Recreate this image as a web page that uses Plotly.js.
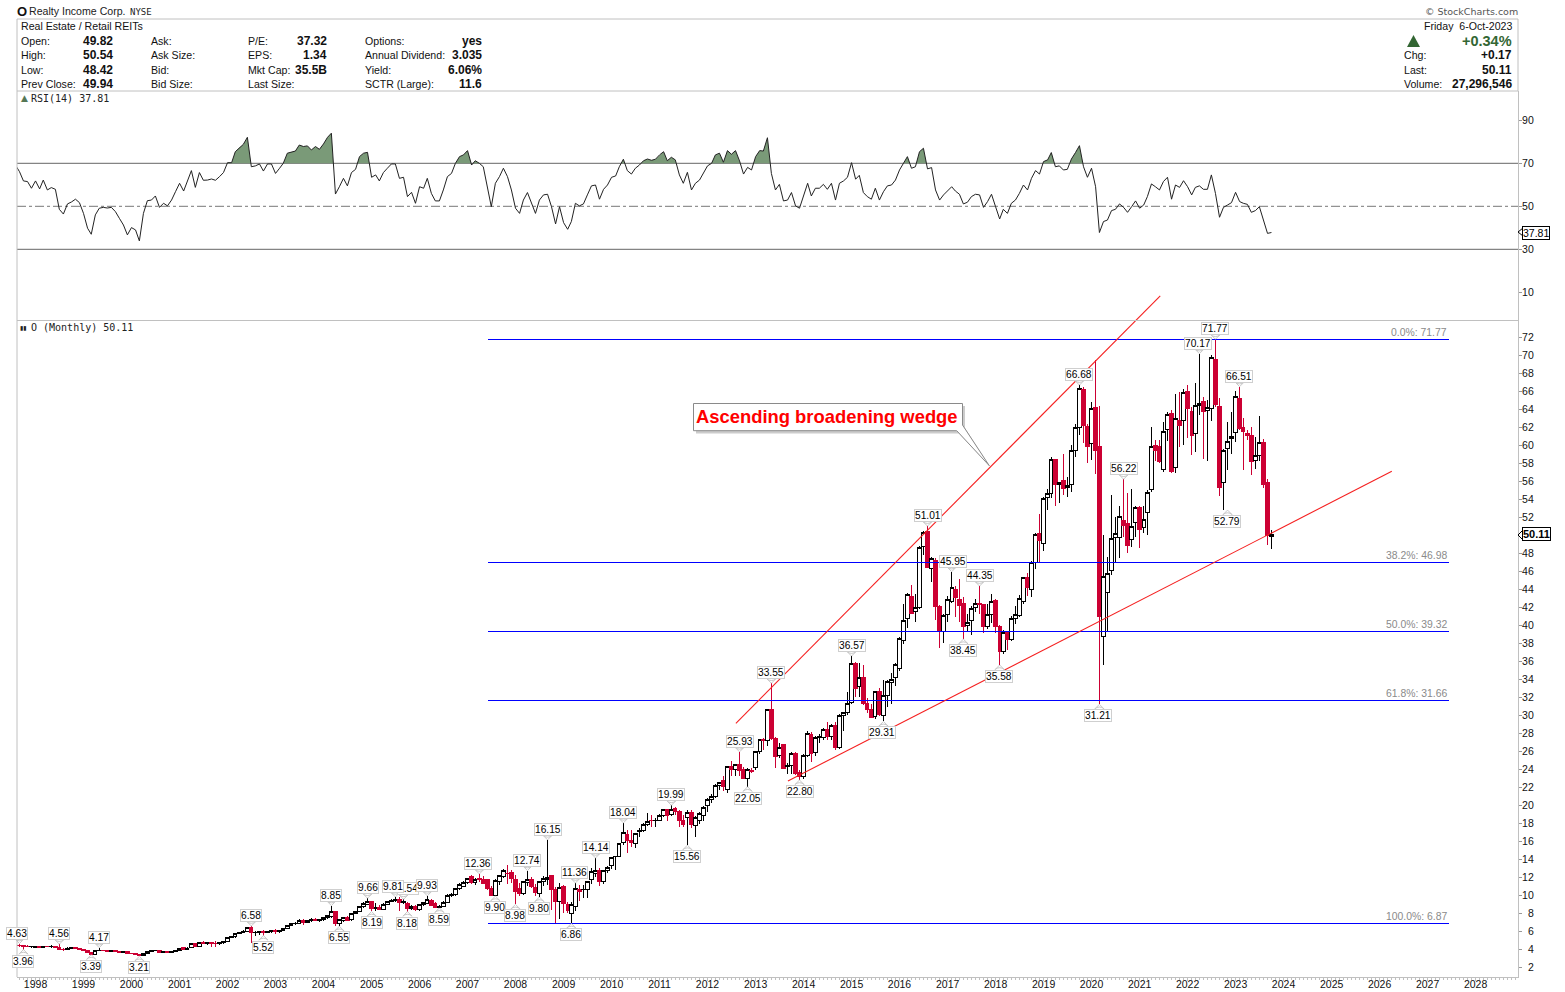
<!DOCTYPE html>
<html><head><meta charset="utf-8">
<script src="https://cdn.plot.ly/plotly-3.0.1.min.js"></script>
<style>html,body{margin:0;padding:0;background:#fff}#c{width:1565px;height:992px}
.boxlayer path{shape-rendering:crispEdges}</style>
</head><body><div id="c"></div>
<script>
const firstYear = 1997, firstMonth = 9;
const opens = [
4.42,4.36,4.30,4.26,
4.20,4.30,4.20,4.30,4.26,4.30,4.24,3.98,3.92,4.12,4.16,4.12,
4.00,3.90,3.66,3.46,3.84,3.88,3.86,3.80,3.84,3.74,3.66,3.70,
3.54,3.50,3.38,3.26,3.48,3.74,3.84,3.86,3.66,3.72,3.64,3.76,
3.90,4.20,3.98,4.20,4.66,4.32,4.74,4.68,4.72,4.68,4.62,4.72,
4.86,5.30,5.42,5.80,5.88,6.00,6.46,5.85,5.88,5.92,5.90,6.00,
6.08,5.95,6.10,6.30,6.62,6.85,6.90,7.20,7.00,7.15,7.35,7.15,
7.25,7.50,7.60,8.17,6.87,7.17,7.50,7.25,8.00,8.17,8.70,9.00,
9.28,8.54,8.65,8.43,9.00,9.30,9.42,9.54,9.17,9.09,8.54,8.80,
8.40,8.93,9.10,9.46,9.10,8.65,8.75,9.20,10.00,10.05,10.76,11.00,
11.40,12.05,11.40,11.85,11.80,11.76,10.76,9.95,11.50,12.13,12.45,12.50,
11.70,10.75,10.20,11.40,11.80,10.85,10.20,11.50,11.75,12.24,10.65,9.28,
10.95,9.00,7.98,8.73,10.65,10.62,10.58,11.70,12.40,12.80,11.50,12.72,
13.25,14.30,14.35,15.87,16.76,16.13,15.76,17.10,17.24,17.87,18.30,18.30,
18.35,18.84,19.47,19.00,19.58,19.28,18.35,18.60,19.24,17.70,18.35,18.90,
20.00,20.65,20.95,22.17,22.72,21.70,24.28,24.00,24.57,24.00,23.00,23.90,
24.17,25.95,27.30,27.24,30.65,27.43,25.47,26.70,24.35,24.40,25.76,23.60,
23.17,25.57,27.87,25.83,27.55,27.54,28.43,27.60,28.84,26.43,30.00,30.30,
31.43,35.76,33.17,34.20,31.30,30.60,29.84,32.60,30.00,32.24,33.60,34.20,
35.20,38.35,40.76,43.24,41.50,42.00,48.70,50.40,46.30,47.24,42.05,39.30,
41.24,42.60,44.00,42.90,42.43,39.95,40.50,41.95,42.40,42.35,39.84,41.24,
42.70,39.90,37.06,39.17,38.43,40.76,41.13,42.60,45.30,44.00,46.95,50.20,
49.10,54.20,54.65,58.36,55.60,56.10,55.30,55.58,59.46,62.00,66.24,62.13,
60.20,64.20,59.84,38.80,43.60,46.10,49.76,49.76,51.60,51.30,49.47,51.43,
53.06,50.87,52.50,55.13,60.00,59.84,57.30,61.76,63.54,57.54,62.80,62.80,
66.00,63.70,61.30,64.40,64.90,63.84,64.10,69.47,64.35,55.84,59.65,60.70,
61.40,65.24,61.95,61.30,61.13,58.28,58.90,60.30,55.87,49.82];
const highs = [
4.63,4.45,4.42,4.34,
4.32,4.34,4.34,4.36,4.42,4.38,4.56,4.10,4.20,4.22,4.24,4.14,
4.04,3.94,3.72,3.88,4.17,3.96,3.92,3.90,3.88,3.80,3.74,3.72,
3.60,3.56,3.44,3.50,3.76,3.90,3.92,3.90,3.80,3.78,3.80,3.95,
4.14,4.26,4.20,4.72,4.74,4.78,4.95,4.82,4.80,4.92,4.85,4.88,
5.40,5.50,5.85,5.95,6.10,6.50,6.58,6.00,6.05,6.08,6.05,6.15,
6.25,6.15,6.35,6.70,6.95,7.00,7.35,7.35,7.25,7.45,7.45,7.35,
7.55,7.85,8.85,8.25,7.30,7.60,7.70,8.05,8.25,8.85,9.20,9.66,
9.40,9.10,8.95,9.10,9.40,9.60,9.81,9.75,9.54,9.25,8.90,8.95,
9.00,9.30,9.93,9.60,9.20,8.90,9.35,10.10,10.30,10.85,11.35,11.55,
11.90,12.30,11.95,12.36,12.10,11.80,11.00,11.80,12.30,12.90,13.35,12.85,
12.30,11.40,11.60,12.74,12.00,11.30,11.50,12.10,16.15,12.30,10.90,11.40,
11.10,9.20,9.30,11.36,11.10,11.10,11.60,13.00,14.14,13.00,12.85,13.30,
14.30,14.40,15.85,18.04,17.25,17.25,16.95,17.50,18.00,19.17,18.90,18.60,
19.00,19.60,19.55,19.99,19.80,19.50,18.90,19.50,19.50,18.80,19.20,19.90,
20.80,21.20,22.40,22.60,23.20,24.40,24.90,24.54,25.93,24.20,24.10,24.10,
26.00,27.40,27.50,30.70,33.55,27.60,26.90,26.85,24.70,25.90,25.90,23.90,
25.70,28.30,28.10,27.70,27.90,28.60,29.30,29.00,29.30,30.10,30.40,32.60,
36.57,35.90,35.80,35.60,31.90,31.20,32.70,33.00,33.90,33.90,34.70,35.80,
38.70,42.40,43.60,44.50,43.50,48.80,50.50,51.01,47.60,47.50,42.20,41.20,
43.30,45.95,44.40,45.10,43.10,41.30,42.10,42.90,44.35,42.40,42.40,43.50,
42.90,40.00,39.50,39.40,41.00,42.10,43.40,45.40,45.80,47.10,50.20,52.35,
54.20,55.10,58.70,58.50,55.95,59.00,56.50,60.00,62.40,66.68,66.50,62.40,
64.80,69.50,64.35,50.00,47.60,54.47,52.00,53.20,56.22,54.65,55.10,53.20,
53.20,53.20,55.00,62.00,60.60,60.60,62.60,63.70,63.90,65.70,65.90,66.20,
66.70,64.30,66.90,70.17,65.40,65.00,70.00,71.77,65.20,59.60,62.60,63.70,
66.00,66.51,63.00,61.70,62.00,60.90,63.30,60.70,56.20,50.54];
const lows = [
4.30,3.96,4.20,4.10,
4.12,4.16,4.16,4.22,4.18,4.20,4.08,3.85,3.88,4.05,4.08,3.96,
3.86,3.62,3.39,3.42,3.78,3.78,3.74,3.72,3.70,3.62,3.58,3.50,
3.44,3.34,3.21,3.22,3.44,3.70,3.78,3.62,3.60,3.60,3.60,3.72,
3.86,3.95,3.90,4.15,4.30,4.28,4.60,4.50,4.20,4.30,4.50,4.60,
4.82,5.20,5.30,5.70,5.76,5.90,4.70,5.50,5.60,5.52,5.80,5.85,
5.70,5.85,6.00,6.25,6.55,6.70,6.80,6.70,6.90,7.05,7.10,7.05,
7.15,7.40,7.50,6.60,6.55,7.05,7.10,7.15,7.90,8.10,8.60,8.90,
8.19,8.30,8.35,8.35,8.90,9.20,9.30,8.28,9.00,8.18,8.40,8.30,
8.30,8.80,9.05,8.85,8.60,8.59,8.70,9.10,9.85,9.95,10.60,10.90,
11.30,11.20,11.10,11.50,11.30,10.60,9.90,9.90,11.10,11.90,11.30,11.40,
8.98,9.90,10.00,11.00,10.80,9.90,9.80,11.00,11.10,8.40,6.87,7.40,
8.00,8.00,6.86,8.30,9.40,9.65,9.65,11.20,12.00,11.00,11.30,12.50,
12.90,12.80,14.20,15.60,14.65,15.40,15.20,16.50,17.00,17.70,17.55,17.60,
18.20,18.70,18.30,18.80,18.90,17.55,17.55,15.56,17.50,16.50,17.90,18.30,
19.20,20.30,20.80,21.70,21.60,21.40,23.30,23.30,23.20,22.90,22.05,23.60,
23.90,25.70,26.10,26.60,27.30,24.10,25.30,24.00,23.50,23.50,23.40,22.80,
22.90,25.40,24.85,25.50,26.90,27.20,27.20,27.20,26.10,26.30,28.30,30.00,
31.20,32.00,32.00,31.10,30.30,29.70,29.60,29.90,29.31,30.90,31.30,33.20,
34.90,37.90,39.70,41.20,40.40,41.80,47.80,46.40,44.80,40.60,37.43,38.00,
40.40,42.50,40.90,40.40,38.45,39.30,38.90,41.50,41.30,39.10,39.60,40.20,
39.10,35.58,36.80,37.20,38.20,40.10,40.90,42.40,43.20,43.10,46.20,46.90,
48.30,52.80,54.10,53.20,53.60,54.50,54.20,54.80,58.70,61.10,60.30,58.00,
58.40,56.80,31.21,35.60,39.30,45.60,47.00,47.50,49.80,48.00,48.70,49.80,
48.60,50.20,50.00,54.80,58.30,58.00,57.00,60.50,56.90,56.90,59.80,60.00,
60.80,58.90,59.30,63.40,58.50,58.30,62.70,64.20,54.40,52.79,57.20,59.00,
60.40,61.70,57.20,60.60,56.70,57.40,58.20,55.20,48.90,48.42];
const closes = [
4.36,4.30,4.26,4.28,
4.30,4.20,4.30,4.26,4.30,4.24,3.98,3.92,4.12,4.16,4.12,4.00,
3.90,3.66,3.46,3.84,3.88,3.86,3.80,3.84,3.74,3.66,3.70,3.54,
3.50,3.38,3.26,3.48,3.74,3.84,3.86,3.66,3.72,3.64,3.76,3.90,
4.08,3.98,4.10,4.66,4.32,4.74,4.68,4.72,4.62,4.62,4.72,4.86,
5.30,5.42,5.80,5.88,6.00,6.46,5.85,5.88,5.92,5.90,6.00,6.08,
5.95,6.10,6.30,6.62,6.85,6.90,7.22,7.00,7.15,7.30,7.15,7.25,
7.50,7.80,8.17,6.87,7.25,7.50,7.20,8.00,8.17,8.80,9.10,9.28,
8.54,8.65,8.40,9.00,9.30,9.42,9.55,9.17,9.30,8.54,8.80,8.40,
8.93,9.15,9.54,8.90,8.60,8.75,9.20,10.00,10.10,10.76,11.24,11.45,
11.85,11.40,11.80,11.75,11.30,10.70,10.00,11.60,12.17,12.80,12.40,11.90,
10.40,10.20,11.50,11.76,10.95,10.30,11.50,11.90,11.95,10.65,9.28,10.87,
9.10,8.28,9.00,10.76,10.40,10.68,11.50,12.60,12.80,11.50,12.72,13.06,
14.20,14.35,15.76,17.00,16.13,15.83,16.87,17.20,17.87,18.17,18.25,18.35,
18.84,19.47,18.90,19.47,19.28,18.35,17.90,19.24,17.90,18.60,19.10,19.76,
20.65,21.00,22.24,22.54,22.13,24.28,24.00,24.54,23.83,23.00,24.00,23.75,
25.95,27.30,27.15,30.65,27.43,25.39,26.43,24.10,24.45,25.69,23.54,23.17,
25.57,28.00,25.76,27.54,27.62,28.43,27.60,28.84,26.43,30.00,30.30,31.30,
35.76,33.00,34.20,31.30,30.60,29.76,32.60,30.13,32.24,33.70,34.00,35.60,
38.54,40.50,43.40,41.30,42.00,48.65,50.30,46.40,47.43,42.05,39.46,41.13,
42.87,44.20,43.06,42.24,39.91,40.30,41.87,42.43,42.30,39.84,41.20,42.60,
39.90,37.06,39.20,38.43,40.76,41.24,43.00,45.30,44.20,46.95,50.09,49.40,
54.10,54.65,58.36,55.60,55.90,55.20,55.50,59.46,62.00,66.30,62.24,59.90,
64.10,59.40,40.95,45.40,45.80,49.65,50.20,52.06,51.13,48.90,50.95,53.06,
50.60,51.76,54.76,59.84,59.40,58.17,61.50,63.43,57.06,63.00,62.17,65.87,
64.10,61.13,64.40,64.65,63.80,64.17,69.76,64.47,55.28,59.46,60.40,61.00,
65.40,61.87,61.50,61.13,58.24,58.90,60.30,55.58,49.94,50.11];
const rsiLeadDate = '1997-08-01';
const rsiLeadValue = 69.2;
const rsi14 = [
66.1,61.8,61.5,58.4,61.8,58.1,62.2,57.6,58.7,57.9,48.6,46.4,51.1,52.0,53.3,51.7,46.7,39.8,37.0,46.0,
49.1,49.5,49.2,49.5,47.5,44.4,41.3,36.7,40.1,39.0,33.9,46.7,52.6,52.9,54.8,49.5,51.4,50.2,52.9,56.8,
60.7,57.1,61.5,66.6,58.8,65.7,62.1,62.2,62.7,62.1,63.8,65.7,70.3,70.3,75.4,77.3,78.8,82.1,68.4,68.8,
69.7,66.4,69.7,69.7,65.3,67.7,70.0,74.7,75.3,75.7,78.5,77.8,78.1,76.2,77.8,76.5,79.0,82.1,84.0,55.7,
59.1,63.0,59.5,65.7,67.2,73.1,74.7,75.1,63.5,64.6,61.8,65.7,67.7,69.7,69.7,63.0,63.5,54.5,56.5,51.4,
59.1,58.4,63.0,56.0,52.5,52.5,57.6,63.8,65.3,70.0,73.1,73.9,75.9,69.2,71.2,70.0,68.4,58.4,49.8,60.7,
63.8,67.7,63.8,57.6,49.1,46.7,52.9,56.4,51.4,46.7,52.9,55.3,55.6,49.8,41.8,49.8,42.4,39.3,42.9,51.4,
50.2,51.1,55.3,59.5,59.9,53.3,57.9,59.9,63.5,64.1,68.4,71.9,66.6,65.0,67.7,69.2,71.2,72.0,71.4,71.9,
73.9,75.4,71.2,72.8,71.6,64.6,60.7,65.8,57.6,60.7,62.2,65.3,68.8,70.0,73.9,74.7,70.5,75.9,74.2,75.9,
71.1,65.0,68.1,66.9,73.1,75.9,75.7,81.9,65.3,57.6,60.2,52.5,52.9,56.4,50.2,49.1,55.3,60.7,54.8,58.4,
58.4,60.2,57.9,60.7,52.9,60.7,61.8,63.5,70.3,62.6,64.4,56.4,54.5,53.3,58.4,52.9,56.8,59.5,59.9,62.2,
66.9,70.0,73.1,67.7,68.4,75.4,77.0,67.4,68.0,57.6,52.9,55.3,57.3,59.1,57.1,55.6,51.1,51.9,54.5,55.6,
55.3,49.5,52.2,55.6,49.8,44.1,48.6,46.7,51.4,52.9,56.0,59.9,57.6,63.0,66.6,65.0,70.8,71.6,75.0,68.4,
68.8,66.9,67.2,72.0,75.0,78.2,68.4,63.5,67.7,59.1,37.8,42.9,43.6,48.0,48.6,51.1,49.5,47.2,49.8,52.5,
49.1,50.6,54.5,60.4,59.1,57.6,61.5,63.5,53.3,59.9,58.8,61.9,59.1,55.3,58.8,59.5,57.9,57.9,64.6,56.0,
44.9,49.5,50.6,51.7,56.5,52.2,51.4,50.9,47.2,48.0,49.8,43.6,37.4,37.81];

const rsiLevels = [70, 30];
const rsiMidLevel = 50;
const rsiOverbought = 70;
const fibValues = [71.77, 46.98, 39.32, 31.66, 6.87];
const fibLabels = ['0.0%: 71.77','38.2%: 46.98','50.0%: 39.32','61.8%: 31.66','100.0%: 6.87'];
const fibDates = ['2007-06-04','2027-06-12'];
const upperWedgeDates = ['2012-08-04','2021-06-07'];
const upperWedgeValues = [29.1, 76.6];
const lowerWedgeDates = ['2013-09-04','2026-04-04'];
const lowerWedgeValues = [22.69, 57.1];

const priceTickVals = [2,4,6,8,10,12,14,16,18,20,22,24,26,28,30,32,34,36,38,40,42,44,46,48,52,54,56,58,60,62,64,66,68,70,72];
const priceTickText = ['\u00a0\u00a02','\u00a0\u00a04','\u00a0\u00a06','\u00a0\u00a08','10','12','14','16','18','20','22','24','26','28','30','32','34','36','38','40','42','44','46','48','52','54','56','58','60','62','64','66','68','70','72'];
const rsiTickVals = [10,30,50,70,90];

// peak and trough labels, lowest z-order first
const peakDates = ['1997-09','1998-07','1999-05','2002-07','2004-03','2004-12','2005-09','2005-07','2006-03','2007-04','2008-04','2008-09','2009-04','2009-09','2010-04','2011-04','2012-09','2013-05','2015-01','2016-08','2017-02','2017-09','2019-10','2020-09','2022-04','2022-08','2023-02'];
const peakValues = [4.63,4.56,4.17,6.58,8.85,9.66,9.54,9.81,9.93,12.36,12.74,16.15,11.36,14.14,18.04,19.99,25.93,33.55,36.57,51.01,45.95,44.35,66.68,56.22,70.17,71.77,66.51];
const peakShift = [-3,0,0,0,0,0,4,-2,0,-1,0,0,-1,0,0,0,0,0,0,0,1,0,0,0,-1,0,-1];
const troughDates = ['1997-10','1999-03','2000-03','2002-10','2004-05','2005-01','2005-10','2006-06','2007-08','2008-01','2008-07','2009-03','2011-08','2012-11','2013-12','2015-09','2017-05','2018-02','2020-03','2022-11'];
const troughValues = [3.96,3.39,3.21,5.52,6.55,8.19,8.18,8.59,9.90,8.98,9.80,6.86,15.56,22.05,22.80,29.31,38.45,35.58,31.21,52.79];
const troughShift = [0,0,0,0,0,0,0,0,0,0,0,0,0,0,0,-1,0,-1,-1,-1];

const headerLeft = [
  ['Open:',21,41],['High:',21,55],['Low:',21,70],['Prev Close:',21,84],
  ['Ask:',151,41],['Ask Size:',151,55],['Bid:',151,70],['Bid Size:',151,84],
  ['P/E:',248,41],['EPS:',248,55],['Mkt Cap:',248,70],['Last Size:',248,84],
  ['Options:',365,41],['Annual Dividend:',365,55],['Yield:',365,70],['SCTR (Large):',365,84],
  ['Chg:',1404,55],['Last:',1404,70],['Volume:',1404,84]
];
const headerValuesLeft = [['49.82',83,41],['50.54',83,55],['48.42',83,70],['49.94',83,84]];
const headerValuesRight = [['37.32',327,41],['1.34',327,55],['35.5B',327,70],['yes',482,41],['3.035',482,55],['6.06%',482,70],['11.6',482,84],['+0.17',1512,55],['50.11',1512,70],['27,296,546',1512,84]];

// -------- geometry of the page
const W=1565,H=992,L=17,R=1518,T=91,B=977;
const px=x=>(x-L)/(R-L), py=y=>(B-y)/(B-T);
const PRICE_TOP=280, PANEL=320.5;
const FONT='"Liberation Sans", Arial, sans-serif';

const dates = opens.map((_,i)=>{
  const m = firstMonth-1+i;
  const y = firstYear+Math.floor(m/12);
  return y+'-'+String(m%12+1).padStart(2,'0')+'-01';
});
const rsiDates=[rsiLeadDate].concat(dates);
const rsiSeries=[rsiLeadValue].concat(rsi14);

function overFill(xs,ys,level){
  const ox=[],oy=[];
  const t=xs.map(d=>Date.parse(d));
  const iso=v=>new Date(v).toISOString();
  let open=false;
  for(let i=0;i<ys.length;i++){
    const above=ys[i]>level;
    if(above&&!open){
      if(i>0){
        const f=(level-ys[i-1])/(ys[i]-ys[i-1]);
        ox.push(iso(t[i-1]+f*(t[i]-t[i-1])));oy.push(level);
      }else{ox.push(iso(t[i]));oy.push(level);}
      open=true;
    }
    if(above){ox.push(iso(t[i]));oy.push(ys[i]);}
    if(open&&(!above||i===ys.length-1)){
      if(!above){
        const f=(level-ys[i-1])/(ys[i]-ys[i-1]);
        ox.push(iso(t[i-1]+f*(t[i]-t[i-1])));oy.push(level);
      }
      ox.push(null);oy.push(null);
      open=false;
    }
  }
  return {x:ox,y:oy};
}
const fill=overFill(rsiDates,rsiSeries,rsiOverbought);

const traces=[
 {type:'scatter',mode:'lines',x:fill.x,y:fill.y,yaxis:'y2',fill:'toself',fillcolor:'#7a9a78',line:{width:0},hoverinfo:'skip'},
 {type:'scatter',mode:'lines',x:rsiDates,y:rsiSeries,yaxis:'y2',line:{color:'#222',width:1},hoverinfo:'skip'},
 {type:'candlestick',x:dates,open:opens,high:highs,low:lows,close:closes,yaxis:'y',whiskerwidth:0,
  increasing:{line:{color:'#000',width:1},fillcolor:'#fff'},
  decreasing:{line:{color:'#cc0033',width:1},fillcolor:'#cc0033'},hoverinfo:'skip'}
];
fibValues.forEach(v=>traces.push({type:'scatter',mode:'lines',x:fibDates,y:[v,v],yaxis:'y',line:{color:'#0000ff',width:1},hoverinfo:'skip'}));
traces.push({type:'scatter',mode:'lines',x:upperWedgeDates,y:upperWedgeValues,yaxis:'y',line:{color:'#f52020',width:1.1},hoverinfo:'skip'});
traces.push({type:'scatter',mode:'lines',x:lowerWedgeDates,y:lowerWedgeValues,yaxis:'y',line:{color:'#f52020',width:1.1},hoverinfo:'skip'});
traces.push({type:'scatter',mode:'markers',x:peakDates.map(d=>d+'-01'),y:peakValues,yaxis:'y',cliponaxis:false,hoverinfo:'skip',
  marker:{symbol:'arrow-wide-open',size:6.5,angle:180,line:{color:'#c8c8c8',width:1},color:'#c8c8c8'}});
traces.push({type:'scatter',mode:'markers',x:troughDates.map(d=>d+'-01'),y:troughValues,yaxis:'y',cliponaxis:false,hoverinfo:'skip',
  marker:{symbol:'arrow-wide-open',size:6.5,angle:0,line:{color:'#c8c8c8',width:1},color:'#c8c8c8'}});

const ann=[];
function txt(t,x,y,o={}){
  const a=Object.assign({text:t,xref:'paper',yref:'paper',x:px(x),y:py(y),showarrow:false,xanchor:'left',yanchor:'middle',
    font:{family:FONT,size:10.6,color:'#111'}},o);
  a.xshift=a.xanchor==='left'?-2:(a.xanchor==='right'?2:0);
  ann.push(a);
}
headerLeft.forEach(r=>txt(r[0],r[1],r[2]));
const boldF={family:FONT,size:12,color:'#111'};
headerValuesLeft.forEach(r=>txt('<b>'+r[0]+'</b>',r[1],r[2],{font:boldF}));
headerValuesRight.forEach(r=>txt('<b>'+r[0]+'</b>',r[1],r[2],{font:boldF,xanchor:'right'}));
txt('Real Estate / Retail REITs',21,26);
txt('Friday  6-Oct-2023',1512,26,{xanchor:'right'});
txt('<b>+0.34%</b>',1512,41,{xanchor:'right',font:{family:FONT,size:14.5,color:'#336633'}});
txt('<b>O</b>',17,11,{font:{family:FONT,size:13,color:'#111'}});
txt('Realty Income Corp.',29,11,{font:{family:FONT,size:10.6,color:'#222'}});
txt('NYSE',130,12,{font:{family:'"DejaVu Sans Mono"',size:9,color:'#222'}});
txt('© StockCharts.com',1518,11,{xanchor:'right',font:{family:'"DejaVu Sans"',size:9.5,color:'#555'}});
const mono={family:'"DejaVu Sans Mono"',size:10,color:'#222'};
txt('RSI(14) 37.81',31,98,{font:mono});
txt('O (Monthly) 50.11',31,327,{font:mono});
txt('▲',21,98,{font:{family:'"DejaVu Sans"',size:9,color:'#557755'}});
txt('▮▮',20,327,{font:{family:'"DejaVu Sans"',size:6,color:'#222'}});
txt('<b>Ascending broadening wedge</b>',696,417,{font:{family:FONT,size:18.4,color:'#ff0000'}});

fibValues.forEach((v,i)=>ann.push({text:fibLabels[i],xref:'x',yref:'y',x:fibDates[1],y:v,yanchor:'bottom',xanchor:'right',xshift:0,yshift:-1,showarrow:false,
  font:{family:FONT,size:10.4,color:'#8a8a8a'}}));
const labF={family:FONT,size:10.2,color:'#000'};
function lab(d,v,shift,above){
  ann.push({text:v.toFixed(2),xref:'x',yref:'y',x:d+'-01',y:v,showarrow:false,
    xanchor:'center',yanchor:above?'bottom':'top',yshift:above?4:-5,xshift:shift,
    bgcolor:'#fff',bordercolor:'#cfcfcf',borderwidth:1,borderpad:0,font:labF});
}
peakDates.forEach((d,i)=>lab(d,peakValues[i],peakShift[i],true));
troughDates.forEach((d,i)=>lab(d,troughValues[i],troughShift[i],false));
ann.push({text:'<b>'+closes[closes.length-1].toFixed(2)+'</b>',xref:'paper',yref:'y',x:px(1522),y:closes[closes.length-1],xanchor:'left',yanchor:'middle',showarrow:false,
  bgcolor:'#fff',bordercolor:'#000',borderwidth:1,borderpad:0,font:{family:FONT,size:11,color:'#000'}});
ann.push({text:rsi14[rsi14.length-1].toFixed(2),xref:'paper',yref:'y2',x:px(1522),y:rsi14[rsi14.length-1],xanchor:'left',yanchor:'middle',showarrow:false,
  bgcolor:'#fff',bordercolor:'#000',borderwidth:1,borderpad:0,font:{family:FONT,size:10.5,color:'#000'}});

const GREY='#c0c0c0';
function poly(points,o){
  const d=points.map((p,i)=>(i?'L':'M')+px(p[0])+' '+py(p[1])).join(' ')+' Z';
  return Object.assign({type:'path',xref:'paper',yref:'paper',path:d},o);
}
function seg(x0,y0,x1,y1,c=GREY){return {type:'line',xref:'paper',yref:'paper',x0:px(x0),y0:py(y0),x1:px(x1),y1:py(y1),line:{color:c,width:1}};}
const shapes=[
  seg(17,19,17,977), seg(17,19,1518,19), seg(17,91,1518,91), seg(17,320.5,1518,320.5), seg(1518,19,1518,91),
  {type:'line',xref:'paper',yref:'y2',x0:0,x1:1,y0:rsiLevels[0],y1:rsiLevels[0],line:{color:'#666',width:1},layer:'below'},
  {type:'line',xref:'paper',yref:'y2',x0:0,x1:1,y0:rsiLevels[1],y1:rsiLevels[1],line:{color:'#666',width:1},layer:'below'},
  {type:'line',xref:'paper',yref:'y2',x0:0,x1:1,y0:rsiMidLevel,y1:rsiMidLevel,line:{color:'#777',width:1,dash:'dashdot'},layer:'below'},
  poly([[696,406],[965,406],[965,428],[989.3,465.7],[959,433.5],[696,433.5]],{fillcolor:'#cccccc',line:{width:0}}),
  poly([[693.5,403.5],[962.5,403.5],[962.5,425],[989.3,465.7],[956.7,430.7],[693.5,430.7]],{fillcolor:'#ffffff',line:{color:'#8a8a8a',width:1}}),
  poly([[1518,535],[1523,530],[1523,540]],{fillcolor:'#fff',line:{color:'#000',width:1}}),
  poly([[1518,232],[1523,228],[1523,236]],{fillcolor:'#fff',line:{color:'#000',width:1}}),
  poly([[1407,47],[1420,47],[1413.5,35]],{fillcolor:'#336633',line:{width:0}})
];

const layout={
  width:W,height:H,autosize:false,margin:{l:L,r:W-R,t:T,b:H-B,pad:0},
  paper_bgcolor:'#fff',plot_bgcolor:'rgba(0,0,0,0)',showlegend:false,
  boxgap:0,boxgroupgap:0.1,boxmode:'overlay',
  font:{family:FONT,size:10.5,color:'#111'},
  xaxis:{type:'date',range:['1997-08-13','2028-11-19'],anchor:'y',rangeslider:{visible:false},
    tick0:'1998-01-01',dtick:'M12',tickformat:'%Y',ticks:'outside',ticklen:3,tickcolor:GREY,showgrid:false,zeroline:false,
    showline:true,linecolor:GREY,linewidth:1,tickfont:{family:FONT,size:10.5,color:'#111'},ticklabelstandoff:-6,
    minor:{dtick:'M1',ticks:'outside',ticklen:1.5,tickcolor:GREY,showgrid:false}},
  yaxis:{domain:[0,py(PRICE_TOP)],range:[0.911,72+(337.2-PRICE_TOP)/9],side:'right',anchor:'x',
    tickmode:'array',tickvals:priceTickVals,ticktext:priceTickText,ticks:'outside',ticklen:3,tickcolor:'#999',showgrid:false,zeroline:false,
    showline:true,linecolor:GREY,linewidth:1,tickfont:{family:FONT,size:10.5,color:'#111'},ticklabelstandoff:-2},
  yaxis2:{domain:[py(PANEL),1],range:[-3.12,103.63],side:'right',anchor:'x',
    tickmode:'array',tickvals:rsiTickVals,ticks:'outside',ticklen:3,tickcolor:'#999',showgrid:false,zeroline:false,
    showline:true,linecolor:GREY,linewidth:1,tickfont:{family:FONT,size:10.5,color:'#111'},ticklabelstandoff:-2},
  annotations:ann,shapes:shapes
};
Plotly.newPlot('c',traces,layout,{displayModeBar:false}).then(()=>{
  document.querySelectorAll('.scatterlayer path.js-line').forEach(p=>{
    const s=p.style.stroke||'';
    if(s.indexOf('0, 0, 255')>=0) p.style.shapeRendering='crispEdges';
  });
});
</script></body></html>
